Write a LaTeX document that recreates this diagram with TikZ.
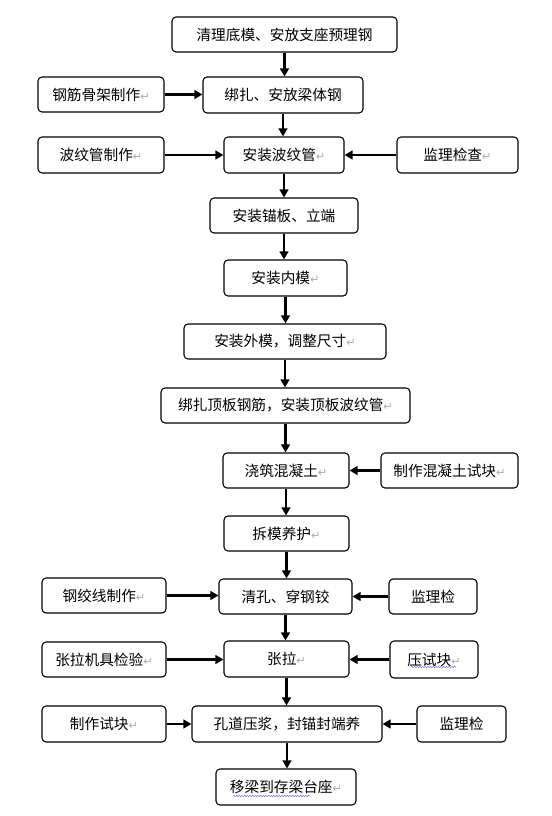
\documentclass[tikz,border=0pt]{standalone}
\usepackage{fontspec}
\newfontfamily\cjk{Noto Sans CJK SC}
\newfontfamily\symfont{DejaVu Sans}
\usetikzlibrary{arrows.meta,decorations.pathmorphing}
\newcommand{\retmark}{{\symfont\color{gray!65}\fontsize{8.5}{9}\selectfont ↵}}
\tikzset{
  stage/.style={draw,line width=0.8pt,rounded corners=3pt,inner sep=0pt,font=\cjk\fontsize{11}{13}\selectfont},
  flow/.style={line width=2pt,-{Triangle[length=6pt,width=6.5pt]}},
  spell/.style={blue!55,line width=0.4pt,decorate,decoration={snake,amplitude=0.5pt,segment length=2pt}}
}
\begin{document}
\begin{tikzpicture}[x=0.75pt,y=-0.75pt]
\useasboundingbox (0,0) rectangle (551,816);
% main column
\node[stage,minimum width=168.75pt,minimum height=26.25pt] (clean) at (284.5,34.5) {清理底模、安放支座预理钢};
\node[stage,minimum width=120pt,minimum height=27pt] (bind) at (283,95) {绑扎、安放梁体钢};
\node[stage,minimum width=90pt,minimum height=27pt] (duct) at (284,155) {安装波纹管\retmark};
\node[stage,minimum width=111pt,minimum height=26.25pt] (anchor) at (284,215.5) {安装锚板、立端};
\node[stage,minimum width=92.25pt,minimum height=27pt] (inner) at (285.5,278) {安装内模\retmark};
\node[stage,minimum width=151.5pt,minimum height=26.25pt] (outer) at (285,341.5) {安装外模，调整尺寸\retmark};
\node[stage,minimum width=186.75pt,minimum height=26.25pt] (topslab) at (285.5,405.5) {绑扎顶板钢筋，安装顶板波纹管\retmark};
\node[stage,minimum width=94.5pt,minimum height=26.25pt] (pour) at (286,470.5) {浇筑混凝土\retmark};
\node[stage,minimum width=93.75pt,minimum height=26.25pt] (strip) at (286.5,533.5) {拆模养护\retmark};
\node[stage,minimum width=99.75pt,minimum height=26.25pt] (thread) at (285.5,596.5) {清孔、穿钢铰};
\node[stage,minimum width=93.75pt,minimum height=27pt] (stress) at (286.5,659) {张拉\retmark};
\node[stage,minimum width=142.5pt,minimum height=27pt] (grout) at (287,724) {孔道压浆，封锚封端养};
\node[stage,minimum width=105pt,minimum height=27pt] (move) at (286,787) {移梁到存梁台座\retmark};
% left column
\node[stage,minimum width=94.5pt,minimum height=26.25pt] (cage) at (101,94.5) {钢筋骨架制作\retmark};
\node[stage,minimum width=94.5pt,minimum height=27pt] (ductmk) at (101,155) {波纹管制作\retmark};
\node[stage,minimum width=93pt,minimum height=26.25pt] (strand) at (104,595.5) {钢绞线制作\retmark};
\node[stage,minimum width=93pt,minimum height=26.25pt] (jack) at (104,659.5) {张拉机具检验\retmark};
\node[stage,minimum width=93pt,minimum height=27pt] (cubeb) at (104,724) {制作试块\retmark};
% right column
\node[stage,minimum width=90.75pt,minimum height=27pt] (checka) at (457.5,155) {监理检查\retmark};
\node[stage,minimum width=102.75pt,minimum height=26.25pt] (cubea) at (449.5,470.5) {制作混凝土试块\retmark};
\node[stage,minimum width=66pt,minimum height=26.25pt] (checkb) at (433,596.5) {监理检};
\node[stage,minimum width=66pt,minimum height=27.75pt] (press) at (434,659.5) {压试块\retmark};
\node[stage,minimum width=66.75pt,minimum height=27pt] (checkc) at (461.5,724) {监理检};

\draw[flow] (clean) -- (clean |- bind.north);
\draw[flow] (bind) -- (bind |- duct.north);
\draw[flow] (duct) -- (duct |- anchor.north);
\draw[flow] (anchor) -- (anchor |- inner.north);
\draw[flow] (inner) -- (inner |- outer.north);
\draw[flow] (outer) -- (outer |- topslab.north);
\draw[flow] (topslab) -- (topslab |- pour.north);
\draw[flow] (pour) -- (pour |- strip.north);
\draw[flow] (strip) -- (strip |- thread.north);
\draw[flow] (thread) -- (thread |- stress.north);
\draw[flow] (stress) -- (stress |- grout.north);
\draw[flow] (grout) -- (grout |- move.north);

\draw[flow] (cage) -- (cage -| bind.west);
\draw[flow] (ductmk) -- (ductmk -| duct.west);
\draw[flow] (strand) -- (strand -| thread.west);
\draw[flow] (jack) -- (jack -| stress.west);
\draw[flow] (cubeb) -- (cubeb -| grout.west);
\draw[flow] (checka) -- (checka -| duct.east);
\draw[flow] (cubea) -- (cubea -| pour.east);
\draw[flow] (checkb) -- (checkb -| thread.east);
\draw[flow] (press) -- (press -| stress.east);
\draw[flow] (checkc) -- (checkc -| grout.east);

\draw[spell] (411,667) -- (456,667);
\draw[spell] (233,796) -- (310,796);
\end{tikzpicture}
\end{document}
